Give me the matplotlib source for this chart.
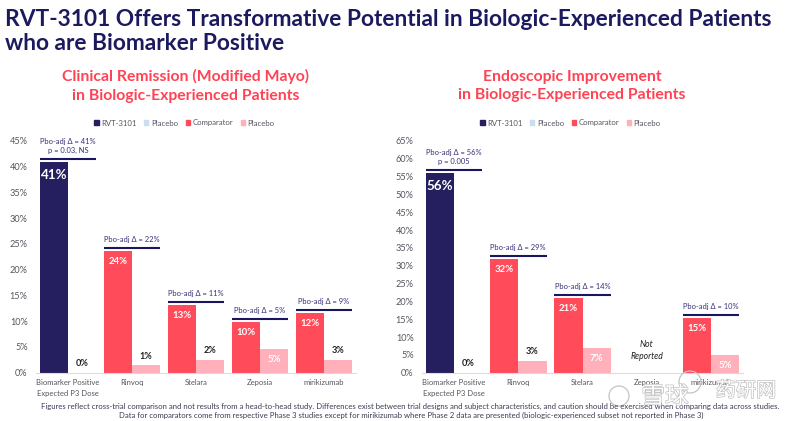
import matplotlib
matplotlib.use("Agg")
import matplotlib.pyplot as plt
import matplotlib.patheffects as pe
from matplotlib.patches import Patch, Circle

plt.rcParams['font.family'] = ['Lato', 'DejaVu Sans']

# === Datos ===
grupos_izq = ["Biomarker Positive\nExpected P3 Dose", "Rinvoq", "Stelara", "Zeposia", "mirikizumab"]
activo_izq = [41, 23.7, 13.2, 9.9, 11.6]
placebo_izq = [0, 1.4, 2.5, 4.6, 2.5]
et_activo_izq = ["41%", "24%", "13%", "10%", "12%"]
et_placebo_izq = ["0%", "1%", "2%", "5%", "3%"]
delta_izq = ["Pbo-adj Δ = 41%\np = 0.03, NS", "Pbo-adj Δ = 22%", "Pbo-adj Δ = 11%", "Pbo-adj Δ = 5%", "Pbo-adj Δ = 9%"]

grupos_der = ["Biomarker Positive\nExpected P3 Dose", "Rinvoq", "Stelara", "Zeposia", "mirikizumab"]
activo_der = [56, 31.9, 21, None, 15.4]
placebo_der = [0, 3.3, 6.9, None, 4.9]
et_activo_der = ["56%", "32%", "21%", None, "15%"]
et_placebo_der = ["0%", "3%", "7%", None, "5%"]
delta_der = ["Pbo-adj Δ = 56%\np = 0.005", "Pbo-adj Δ = 29%", "Pbo-adj Δ = 14%", None, "Pbo-adj Δ = 10%"]

ticks_izq = list(range(0, 50, 5))
ticks_der = list(range(0, 70, 5))

NAVY = "#251f5f"
ROJO = "#ff4b5a"
ROSA = "#ffb0ba"
AZUL = "#c9dfee"
GRIS = "#555560"
W, H = 800, 421

fig = plt.figure(figsize=(8, 4.21), dpi=100, facecolor="white")


def caja(x0, x1, ytop, ybot):
    return [x0 / W, 1 - ybot / H, (x1 - x0) / W, (ybot - ytop) / H]


def graficar(pos, grupos, activo, placebo, et_a, et_p, delta, ticks, ymax, leg_x):
    ax = fig.add_axes(pos)
    ax.set_facecolor("none")
    ax.set_xlim(-0.5, 4.5)
    ax.set_ylim(0, ymax)
    for s in ["top", "right", "left"]:
        ax.spines[s].set_visible(False)
    ax.spines["bottom"].set_color("#dcdcdc")
    ax.spines["bottom"].set_linewidth(0.8)
    ax.set_yticks(ticks)
    ax.set_yticklabels([f"{t}%" for t in ticks], fontsize=6.6, color=GRIS)
    ax.set_xticks(range(len(grupos)))
    ax.set_xticklabels(grupos, fontsize=5.5, color=GRIS, linespacing=1.6)
    ax.tick_params(axis="x", length=0, pad=4.5)
    ax.tick_params(axis="y", length=0, pad=6)

    for i in range(len(grupos)):
        if activo[i] is None:
            ax.text(i, 0.095, "Not\nReported", transform=ax.get_xaxis_transform(), ha="center", va="center",
                    fontsize=6.2, style="italic", color="#222222", linespacing=1.35)
            continue
        color = NAVY if i == 0 else ROJO
        ax.bar(i - 0.22, activo[i], width=0.44, color=color)
        ax.bar(i + 0.22, placebo[i], width=0.44, color=ROSA)

        grande = i == 0
        ax.annotate(et_a[i], (i - 0.22, activo[i]), xytext=(0, -9.5 if grande else -7.7), textcoords="offset points",
                    ha="center", va="center", color="white", fontweight="bold", fontsize=9.6 if grande else 6.9)
        # placebo pequeño va arriba en negro, si no dentro en blanco
        if placebo[i] >= 4:
            ax.annotate(et_p[i], (i + 0.22, placebo[i]), xytext=(0, -7.5), textcoords="offset points",
                        ha="center", va="center", color="white", fontweight="bold", fontsize=6.9)
        else:
            ax.annotate(et_p[i], (i + 0.22, placebo[i]), xytext=(0, 6.5), textcoords="offset points",
                        ha="center", va="center", color="#222222", fontweight="bold", fontsize=6.6)

        # linea delta sobre la barra
        y = activo[i] + 3 * ymax / (pos[3] * H)
        ax.plot([i - 0.44, i + 0.44], [y, y], color="#1a1560", lw=1.5, solid_capstyle="butt", clip_on=False)
        ax.annotate(delta[i], (i, y), xytext=(0, 3.5), textcoords="offset points", ha="center", va="bottom",
                    fontsize=5.4, color="#35307a", linespacing=1.35)

    handles = [Patch(color=NAVY, label="RVT-3101"), Patch(color=AZUL, label="Placebo"),
               Patch(color=ROJO, label="Comparator"), Patch(color=ROSA, label="Placebo")]
    fig.legend(handles=handles, ncols=4, frameon=False, fontsize=5.6, labelcolor=GRIS, loc="center",
               bbox_to_anchor=(leg_x / W, 1 - 123 / H), handlelength=0.55, handleheight=0.55,
               handletextpad=0.35, columnspacing=0.95, borderpad=0)
    return ax


graficar(caja(36, 356, 141, 372.7), grupos_izq, activo_izq, placebo_izq, et_activo_izq, et_placebo_izq,
         delta_izq, ticks_izq, 45, 184.5)
graficar(caja(422, 743, 141, 372.7), grupos_der, activo_der, placebo_der, et_activo_der, et_placebo_der,
         delta_der, ticks_der, 65, 570.5)

# === Titulos ===
fig.text(5 / W, 1 - 20 / H, "RVT-3101 Offers Transformative Potential in Biologic-Experienced Patients",
         fontsize=16.35, fontweight="bold", color="#1c1a5e", va="center")
fig.text(5 / W, 1 - 43 / H, "who are Biomarker Positive",
         fontsize=16.35, fontweight="bold", color="#1c1a5e", va="center")

fig.text(186 / W, 1 - 86 / H, "Clinical Remission (Modified Mayo)\nin Biologic-Experienced Patients",
         fontsize=11.3, fontweight="bold", color="#ff4354", ha="center", va="center", linespacing=1.4)
fig.text(572 / W, 1 - 86 / H, "Endoscopic Improvement\nin Biologic-Experienced Patients",
         fontsize=11.3, fontweight="bold", color="#ff4354", ha="center", va="center", linespacing=1.4)

fig.text(410.5 / W, 1 - 406 / H,
         "Figures reflect cross-trial comparison and not results from a head-to-head study. Differences exist between trial designs and subject characteristics, and caution should be exercised when comparing data across studies.",
         fontsize=5.55, color="#3a3a55", ha="center", va="center")
fig.text(411 / W, 1 - 415 / H,
         "Data for comparators come from respective Phase 3 studies except for mirikizumab where Phase 2 data are presented (biologic-experienced subset not reported in Phase 3)",
         fontsize=5.55, color="#3a3a55", ha="center", va="center")

# marca de agua, blanca con contorno gris sobre el grafico
contorno = [pe.withStroke(linewidth=1.0, foreground="#c0c0c0")]
for cx, cy, r in [(619, 396, 10), (690, 382, 11)]:
    fig.add_artist(Circle((cx, H - cy), r, transform=None, facecolor="none", edgecolor="#c4c4c4", lw=0.9))
fig.text(665 / W, 1 - 397 / H, "雪球", family=['Noto Sans CJK SC'], fontsize=17, color="white",
         ha="center", va="center", path_effects=contorno)
fig.text(746 / W, 1 - 391 / H, "药研网", family=['Noto Sans CJK SC'], fontsize=14.5, color="white",
         ha="center", va="center", path_effects=contorno)

fig.savefig("out.png", dpi=100)
